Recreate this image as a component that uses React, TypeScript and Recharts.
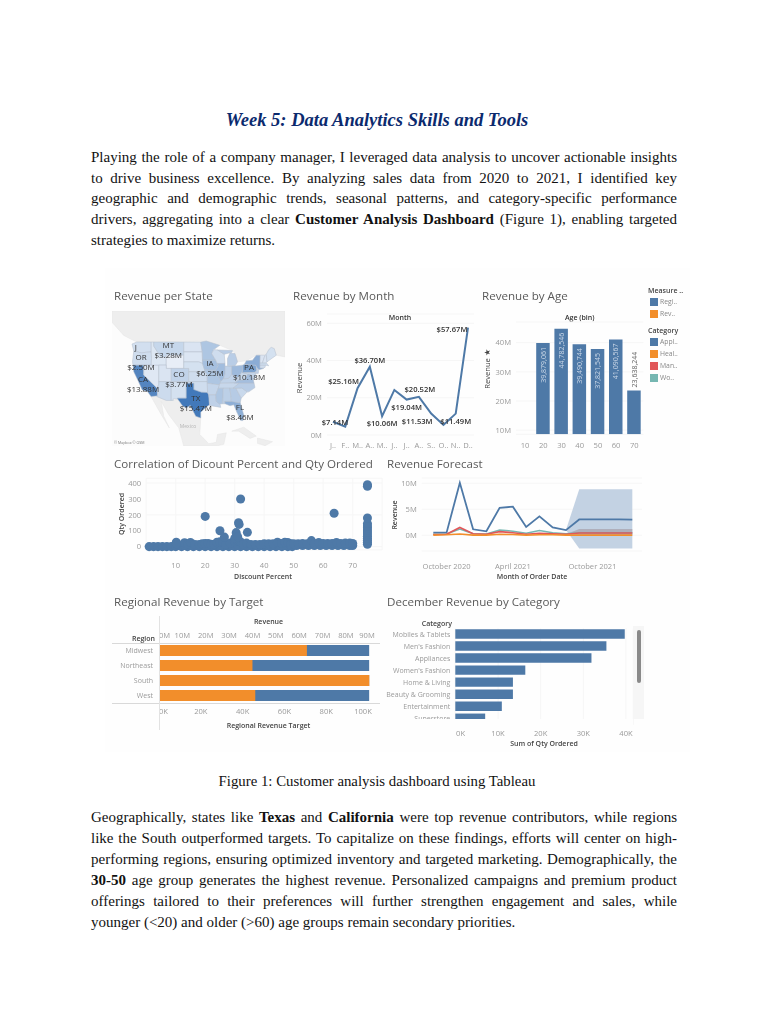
import React from 'react';
import {
  Area,
  Bar,
  BarChart,
  CartesianGrid,
  ComposedChart,
  LabelList,
  Line,
  LineChart,
  Scatter,
  ScatterChart,
  XAxis,
  YAxis,
  ZAxis,
} from 'recharts';

const SERIF = '"Liberation Serif", serif';
const SANS = '"Open Sans", sans-serif';
const BLUE = '#4e79a7';
const ORANGE = '#f28e2b';
const RED = '#e15759';
const TEAL = '#76b7b2';
const GRID = '#f6f6f6';
const TICK = { fill: '#9a9a9a', fontSize: 7.6, fontFamily: SANS };

// Revenue by month ($M)
const months = ['J..', 'F..', 'M..', 'A..', 'M..', 'J..', 'J..', 'A..', 'S..', 'O..', 'N..', 'D..'];
const monthRevenue = [7.14, 4.5, 25.16, 36.7, 10.06, 24.2, 19.04, 20.52, 11.53, 5.4, 11.49, 57.67];

// Revenue by age bin
const ageBins = ['10', '20', '30', '40', '50', '60', '70'];
const ageRevenue = [null, 39879061, 44782546, 39490744, 37821545, 41090567, 23638244];

// Discount vs quantity
const scatterBottom: [number, number][] = [
  [1, 0], [2.5, 0], [4, 0], [5.5, 0], [7, 0], [8.5, 0], [10, 0], [12, 0], [14, 0], [16, 0], [18, 0], [20, 0], [22, 0], [24, 0],
  [26, 0], [28, 0], [30, 0], [32, 0], [34, 0], [36, 0], [38, 0], [40, 0], [42, 0], [44, 0], [46, 0], [48, 0], [49.5, 0],
];
const scatterMiddle: [number, number][] = [
  [11, 8], [13, 8], [15, 8], [17, 8], [19, 8], [21, 8], [23, 8], [25, 8], [27, 8], [29, 8], [31, 8], [33, 8], [35, 8], [37, 8], [39, 8],
  [41, 8], [43, 8], [45, 8], [47, 8], [49, 8], [51, 7], [53, 7], [55, 7], [57, 7], [59, 7], [61, 7], [63, 7], [65, 7], [67, 7], [69, 7], [70, 7],
];
const scatterTop: [number, number][] = [
  [10.2, 28], [10.3, 18], [13, 24], [14, 16], [15, 26], [16.5, 14], [18, 14], [19, 18], [20, 20], [21, 20], [22, 15], [23, 14],
  [24, 28], [25, 30], [26, 28], [27, 15], [28.5, 22], [30, 32], [31, 36], [32, 30], [33, 14], [34, 22], [35.5, 14], [37, 14], [38.5, 14],
  [40, 18], [41.5, 18], [43, 18], [44.5, 28], [46, 20], [47, 28], [48, 26], [49, 18], [50, 18], [51.5, 18], [53, 20], [54.5, 18], [56, 38],
  [57, 18], [58.5, 26], [60, 20], [61.5, 20], [63, 20], [64.5, 26], [66, 20], [67.5, 22], [69, 22], [70, 20],
];
const scatterOutliers: [number, number][] = [
  [20, 190], [25, 100], [26.5, 60], [30.5, 88], [31.3, 150], [31.5, 140], [32, 300], [34.3, 90], [30, 52], [31, 62], [63.7, 210],
  [75, 15], [75, 28], [75, 40], [75, 52], [75, 65], [75, 80], [75, 92], [75, 105], [75, 118], [75, 130], [75, 145], [75, 180], [75, 380], [75, 390],
];

// Forecast by month ($M)
const forecastTicks = ['', 'October 2020', '', '', '', '', 'April 2021', '', '', '', '', '', 'October 2021', '', '', ''];
const forecastBlue = [0.5, 0.5, 10.1, 1.15, 0.77, 5.3, 5.5, 1.6, 3.65, 1.5, 1, 3.05, 3.05, 3.05, 3.05, 3.0];
const forecastTeal = [0.2, 0.25, 1.2, 0.3, 0.25, 1, 0.8, 0.4, 0.9, 0.5, 0.3, 0.5, 0.5, 0.5, 0.5, 0.5];
const forecastRed = [0.15, 0.2, 1.5, 0.3, 0.2, 0.7, 0.5, 0.2, 0.4, 0.3, 0.2, 0.45, 0.45, 0.45, 0.45, 0.45];
const forecastOrange = [0.05, 0.1, 0.25, 0.05, 0.05, 0.2, 0.15, 0.05, 0.1, 0.1, 0.05, 0.05, 0.05, 0.05, 0.05, 0.05];
const forecastBlueLow = [null, null, null, null, null, null, null, null, null, null, 1, -2.56, -2.56, -2.56, -2.56, -2.56];
const forecastBlueHigh = [null, null, null, null, null, null, null, null, null, null, 1, 8.85, 8.85, 8.85, 8.85, 8.85];
const forecastGrayLow = [null, null, null, null, null, null, null, null, null, null, 0.2, 0, 0, 0, 0, 0];
const forecastGrayHigh = [null, null, null, null, null, null, null, null, null, null, 0.2, 1.2, 1.2, 1.2, 1.2, 1.2];

// Regional revenue against target
const regions = ['Midwest', 'Northeast', 'South', 'West'];
const regionTarget = [100.5, 100.5, 100.5, 100.5]; // K
const regionRevenue = [63.3, 40, 90, 41.2]; // M

// December quantity by category (K)
const categories = ['Mobiles & Tablets', "Men's Fashion", 'Appliances', "Women's Fashion", 'Home & Living', 'Beauty & Grooming', 'Entertainment', 'Superstore'];
const categoryQty = [39.7, 35.4, 31.9, 16.4, 13.5, 13.5, 10.9, 7];

// Low-poly outlines in lon/lat, with revenue in $M for the fill
const stateOutlines: [string, number, number[][]][] = [
  ['WA', 2.2, [[-124.7, 48.4], [-122.8, 49], [-117, 49], [-117, 46], [-119, 45.9], [-121, 45.7], [-124, 46.3]]],
  ['OR', 2.5, [[-124, 46.3], [-121, 45.7], [-119, 45.9], [-117, 46], [-116.9, 44], [-117, 42], [-124.3, 42], [-124.5, 43]]],
  ['CA', 13.88, [[-124.3, 42], [-120, 42], [-120, 39], [-114.6, 35], [-114.5, 32.7], [-117.1, 32.5], [-118.5, 34], [-120.6, 34.5], [-122.4, 37.5], [-124, 40]]],
  ['NV', 1, [[-120, 42], [-114, 42], [-114, 36.2], [-114.6, 35], [-120, 39]]],
  ['ID', 1.2, [[-117, 49], [-116, 49], [-116, 47.8], [-114.5, 46], [-113, 44.5], [-111, 44.5], [-111, 42], [-117, 42], [-116.9, 44], [-117, 46]]],
  ['MT', 3.28, [[-116, 49], [-104, 49], [-104, 45], [-111, 45], [-111, 44.5], [-113, 44.5], [-114.5, 46], [-116, 47.8]]],
  ['WY', 0.2, [[-111, 45], [-104, 45], [-104, 41], [-111, 41]]],
  ['UT', 1.5, [[-114, 42], [-111, 42], [-111, 41], [-109, 41], [-109, 37], [-114, 37]]],
  ['AZ', 2.8, [[-114, 37], [-109, 37], [-109, 31.3], [-111, 31.3], [-114.8, 32.5], [-114.5, 32.7], [-114.6, 35], [-114, 36.2]]],
  ['CO', 3.77, [[-109, 41], [-102, 41], [-102, 37], [-109, 37]]],
  ['NM', 2, [[-109, 37], [-103, 37], [-103, 32], [-106.5, 32], [-106.5, 31.8], [-108.2, 31.8], [-108.2, 31.3], [-109, 31.3]]],
  ['ND', 1.5, [[-104, 49], [-97.2, 49], [-96.6, 46], [-104, 46]]],
  ['SD', 1.3, [[-104, 46], [-96.6, 46], [-96.5, 42.5], [-98, 43], [-104, 43]]],
  ['NE', 2, [[-104, 43], [-98, 43], [-96.5, 42.5], [-95.4, 40], [-102, 40], [-102, 41], [-104, 41]]],
  ['KS', 2.5, [[-102, 40], [-95.4, 40], [-94.6, 39], [-94.6, 37], [-102, 37]]],
  ['OK', 2.5, [[-103, 37], [-94.6, 37], [-94.5, 33.7], [-97, 33.8], [-100, 34.6], [-100, 36.5], [-103, 36.5]]],
  ['TX', 15.47, [[-103, 36.5], [-100, 36.5], [-100, 34.6], [-97, 33.8], [-94.5, 33.7], [-94, 33], [-93.7, 30], [-95, 29.3], [-97.2, 27.7], [-97.2, 26], [-99.2, 26.5], [-101.4, 29.8], [-103, 29], [-104.5, 29.7], [-106.5, 31.8], [-106.5, 32], [-103, 32]]],
  ['MN', 5.5, [[-97.2, 49], [-95, 49.3], [-89.6, 48], [-92, 46.7], [-92.8, 45.5], [-91.2, 43.5], [-96.5, 43.5], [-96.6, 46]]],
  ['IA', 6.25, [[-96.5, 43.5], [-91.2, 43.5], [-90.2, 41.8], [-91.4, 40.4], [-95.7, 40.6], [-96.5, 42.5]]],
  ['MO', 5.5, [[-95.7, 40.6], [-91.4, 40.4], [-90.2, 38.8], [-89.2, 37], [-89.7, 36], [-94.6, 36.5], [-94.6, 39], [-95.4, 40]]],
  ['AR', 3.5, [[-94.6, 36.5], [-89.7, 36], [-90.2, 35], [-91.2, 33], [-94, 33], [-94.5, 33.7]]],
  ['LA', 4, [[-94, 33], [-91.2, 33], [-91, 31], [-89.7, 31], [-89.2, 29.2], [-93.7, 29.8], [-93.7, 30]]],
  ['WI', 2.5, [[-92, 46.7], [-90.5, 46.6], [-87.8, 45.3], [-87.5, 42.5], [-90.6, 42.5], [-91.2, 43.5], [-92.8, 45.5]]],
  ['IL', 6.6, [[-90.6, 42.5], [-87.5, 42.5], [-87.5, 39.3], [-88.1, 37.8], [-89.2, 37], [-90.2, 38.8], [-91.4, 40.4], [-90.2, 41.8]]],
  ['IN', 4, [[-87.5, 41.7], [-84.8, 41.7], [-84.8, 39.1], [-86, 38], [-88.1, 37.8], [-87.5, 39.3]]],
  ['MI', 4.5, [[-86.5, 41.8], [-83.5, 41.7], [-82.5, 43], [-83.5, 45.5], [-85.5, 45.7], [-86.5, 44]]],
  ['MI', 4.5, [[-90.5, 46.6], [-87, 46.5], [-84.5, 46.4], [-84.7, 45.9], [-87.8, 45.3]]],
  ['OH', 7, [[-84.8, 41.7], [-83.5, 41.7], [-80.5, 42], [-80.6, 40], [-82, 38.5], [-82.6, 38.2], [-84.8, 39.1]]],
  ['KY', 3.8, [[-89.2, 37], [-88.1, 37.8], [-86, 38], [-84.8, 39.1], [-82.6, 38.2], [-82, 37.5], [-83.7, 36.6], [-89.5, 36.5]]],
  ['TN', 3.2, [[-89.7, 36], [-89.5, 36.5], [-83.7, 36.6], [-81.7, 36.6], [-84.3, 35], [-90.2, 35]]],
  ['MS', 5.5, [[-90.2, 35], [-88.2, 35], [-88.4, 30.3], [-89.7, 30.2], [-91, 31], [-91.2, 33]]],
  ['AL', 4.2, [[-88.2, 35], [-85.6, 35], [-85, 32], [-85, 31], [-87.6, 31], [-87.5, 30.3], [-88.4, 30.3]]],
  ['GA', 4.8, [[-85.6, 35], [-83.1, 35], [-81, 32], [-81.4, 30.7], [-85, 30.7], [-85, 32]]],
  ['FL', 8.46, [[-87.6, 31], [-85, 31], [-82, 30.6], [-81.4, 30.7], [-80, 26.9], [-80.3, 25.2], [-81.2, 25.2], [-82.8, 27.8], [-84, 30], [-85.5, 29.7], [-87.5, 30.3]]],
  ['SC', 3, [[-83.1, 35], [-80.8, 35.1], [-78.6, 33.9], [-81, 32]]],
  ['NC', 4.5, [[-84.3, 35], [-81.7, 36.6], [-75.9, 36.6], [-75.5, 35.2], [-78, 33.9], [-78.6, 33.9], [-80.8, 35.1], [-83.1, 35]]],
  ['VA', 6.5, [[-83.7, 36.6], [-75.9, 36.6], [-76.3, 38], [-77.3, 39.2], [-78.4, 39.3], [-80, 37.5], [-82, 37.5]]],
  ['WV', 3, [[-82.6, 38.2], [-82, 37.5], [-80, 37.5], [-78.4, 39.3], [-80.5, 39.7], [-80.6, 40], [-82, 38.5]]],
  ['PA', 10.18, [[-80.5, 42], [-79.8, 42.2], [-75.2, 42], [-74.8, 40.5], [-75.5, 39.8], [-80.5, 39.7]]],
  ['NY', 8.8, [[-79.8, 42.2], [-79, 43.3], [-76.5, 43.5], [-75, 45], [-73.4, 45], [-73.5, 41.2], [-72, 41], [-74, 40.6], [-74.8, 41.3], [-75.2, 42]]],
  ['NJ', 4, [[-74.8, 41.3], [-74, 40.6], [-74.2, 39.5], [-75.5, 39.5], [-74.8, 40.5]]],
  ['MD', 3.5, [[-80, 39.7], [-75.5, 39.8], [-75, 38.4], [-76, 37.9], [-77.3, 39.2], [-78.4, 39.3]]],
  ['CT', 2.5, [[-73.5, 42], [-71.3, 42], [-71.5, 41.3], [-73.5, 41.1]]],
  ['MA', 2.5, [[-73.5, 42.7], [-71, 42.7], [-70, 41.8], [-71.3, 42], [-73.5, 42]]],
  ['VT', 1.5, [[-73.4, 45], [-71.5, 45], [-72.5, 42.7], [-73.5, 42.7]]],
  ['NH', 1.5, [[-71.5, 45], [-71, 45.3], [-70.7, 43], [-71, 42.7], [-72.5, 42.7]]],
  ['ME', 2, [[-71, 45.3], [-70, 46.7], [-69, 47.4], [-67.8, 47], [-67, 45], [-70.7, 43]]],
];
const landOutlines: number[][][] = [
  [[-132.7, 58.4], [-63.5, 58.4], [-63.5, 44.5], [-67, 45], [-67.8, 47], [-69, 47.4], [-70, 46.7], [-71, 45.3], [-75, 45], [-79, 43.3], [-82.5, 43], [-83.5, 45.5], [-84.5, 46.4], [-89.6, 48], [-95, 49.3], [-122.8, 49], [-128, 51], [-132.7, 55]],
  [[-117.1, 32.5], [-114.8, 32.5], [-111, 31.3], [-108.2, 31.3], [-106.5, 31.8], [-104.5, 29.7], [-103, 29], [-101.4, 29.8], [-99.2, 26.5], [-97.2, 26], [-97.6, 21], [-94, 18.2], [-91, 18.6], [-90.5, 21], [-87, 21.5], [-88, 18], [-91, 17.5], [-104, 17.5], [-106, 23], [-110, 27], [-113, 31], [-112, 26.5], [-109.8, 23], [-113, 27]],
  [[-84.8, 22], [-80, 23.2], [-75, 20.5], [-77.5, 19.8], [-82, 22]],
  [[-74.5, 19.9], [-68.5, 18.8], [-71.5, 17.6], [-74.5, 18.3]],
];
const mapLabels: [string, string, number, number][] = [
  ['J', '', -123.2, 47.6],
  ['OR', '$2.50M', -121.1, 43.1],
  ['MT', '$3.28M', -110.2, 46.6],
  ['IA', '$6.25M', -93.5, 41.1],
  ['PA', '$10.18M', -77.9, 39.9],
  ['CO', '$3.77M', -105.9, 37.9],
  ['CA', '$13.88M', -120.3, 36.3],
  ['TX', '$15.47M', -99.2, 30.5],
  ['FL', '$8.46M', -81.5, 27.8],
];

const measureLegend: [string, string][] = [['Regi..', BLUE], ['Rev..', ORANGE]];
const categoryLegend: [string, string][] = [['Appl..', BLUE], ['Heal..', ORANGE], ['Man..', RED], ['Wo..', TEAL]];

const MAP_W = 173;
const MAP_H = 135;
const LON_DOMAIN = [-132.7, -63.5];
const LAT_DOMAIN = [17.5, 58.4];
const PX_LON = MAP_W / (LON_DOMAIN[1] - LON_DOMAIN[0]);
const PX_LAT = MAP_H / (LAT_DOMAIN[1] - LAT_DOMAIN[0]);

const shade = (revenue: number) => {
  const t = Math.min(revenue / 15.5, 1);
  const mix = (a: number, b: number) => Math.round(a + (b - a) * t);
  return `rgb(${mix(234, 66)},${mix(240, 121)},${mix(248, 186)})`;
};

const stateRows = stateOutlines.map(([name, revenue, poly]) => ({
  name, lon: poly[0][0], lat: poly[0][1], poly, fill: shade(revenue), stroke: '#b4bfcc',
}));
const landRows = landOutlines.map((poly) => ({
  lon: poly[0][0], lat: poly[0][1], poly, fill: '#eeeeee', stroke: '#e4e4e4',
}));
const mapLabelRows = mapLabels.map(([code, value, lon, lat]) => ({ code, value, lon, lat }));

// outlines are anchored on their first vertex, the rest is offset from there
const PolyShape = (props: any) => {
  const { cx, cy, payload } = props;
  const pts = payload.poly
    .map(([lon, lat]: number[]) => `${cx + (lon - payload.lon) * PX_LON},${cy - (lat - payload.lat) * PX_LAT}`)
    .join(' ');
  return <polygon points={pts} fill={payload.fill} stroke={payload.stroke} strokeWidth={0.5} />;
};

const MapLabelShape = (props: any) => {
  const { cx, cy, payload } = props;
  const style = { fontFamily: SANS, fontSize: 8, fill: '#333' };
  return (
    <g>
      <text x={cx} y={payload.value ? cy - 2 : cy + 3} textAnchor="middle" style={style}>{payload.code}</text>
      {payload.value && <text x={cx} y={cy + 8} textAnchor="middle" style={style}>{payload.value}</text>}
    </g>
  );
};

const monthRows = months.map((month, i) => ({ key: `${month}${i}`, month, revenue: monthRevenue[i] }));
const monthLabelOffsets: Record<number, [number, number]> = {
  0: [2, 3], 2: [-14, -4], 3: [0, -4], 4: [0, 10], 6: [0, 10], 7: [1, -5], 8: [-14, 10], 10: [0, 10], 11: [-16, 4],
};
const MonthLabel = (props: any) => {
  const { x, y, value, index } = props;
  const offset = monthLabelOffsets[index];
  if (!offset) return null;
  return (
    <text x={x + offset[0]} y={y + offset[1]} textAnchor="middle" style={{ fontFamily: SANS, fontSize: 7.6, fontWeight: 600, fill: '#333' }}>
      ${value.toFixed(2)}M
    </text>
  );
};

const ageRows = ageBins.map((bin, i) => ({ bin, revenue: ageRevenue[i] }));
const AgeLabel = (props: any) => {
  const { x, y, width, value } = props;
  if (value == null) return null;
  const low = value < 30000000;
  const cx = x + width / 2;
  const anchorY = low ? y - 3 : y + 4;
  return (
    <text
      transform={`translate(${cx + 2.6},${anchorY}) rotate(-90)`}
      textAnchor={low ? 'start' : 'end'}
      style={{ fontFamily: SANS, fontSize: 7, fill: low ? '#666' : '#c9d6e6' }}
    >
      {value.toLocaleString('en-US')}
    </text>
  );
};

const scatterRows = [...scatterBottom, ...scatterMiddle, ...scatterTop, ...scatterOutliers].map(([discount, qty]) => ({ discount, qty }));
const forecastRows = forecastTicks.map((tick, i) => ({
  slot: i,
  blue: forecastBlue[i],
  teal: forecastTeal[i],
  red: forecastRed[i],
  orange: forecastOrange[i],
  blueBand: forecastBlueLow[i] == null ? null : [forecastBlueLow[i], forecastBlueHigh[i]],
  grayBand: forecastGrayLow[i] == null ? null : [forecastGrayLow[i], forecastGrayHigh[i]],
}));
const regionRows = regions.map((region, i) => ({ region, target: regionTarget[i], revenue: regionRevenue[i] }));
const categoryRows = categories.map((category, i) => ({ category, qty: categoryQty[i] }));

// first tick of a Tableau axis sits inside the pane, so nudge it right
const InsideTick = (props: any) => {
  const { x, y, payload, suffix, nudge } = props;
  return (
    <text x={x + (payload.value === 0 ? nudge : 0)} y={y} dy={3} textAnchor="middle" style={TICK}>
      {payload.value}{suffix}
    </text>
  );
};

// single line row label, Recharts would wrap these
const RowTick = (props: any) => {
  const { x, y, payload } = props;
  return (
    <text x={x} y={y} dy={2.6} textAnchor="end" style={{ ...TICK, fontSize: 7 }}>
      {payload.value}
    </text>
  );
};

const Txt = ({ x, y, children, size = 7.6, color = '#444', weight = 400, rotate = 0, align = 'left', font = SANS }: any) => {
  const shift = align === 'center' ? '-50%' : align === 'right' ? '-100%' : '0';
  return (
    <div
      style={{
        position: 'absolute', left: x, top: y, lineHeight: 1, whiteSpace: 'nowrap', fontFamily: font,
        fontSize: size, color, fontWeight: weight,
        transform: `translate(${shift},-50%) rotate(${rotate}deg)`,
      }}
    >
      {children}
    </div>
  );
};

const Box = ({ x, y, w, h, color, radius = 0 }: any) => (
  <div style={{ position: 'absolute', left: x, top: y, width: w, height: h, background: color, borderRadius: radius }} />
);

const At = ({ x, y, children }: any) => <div style={{ position: 'absolute', left: x, top: y }}>{children}</div>;

const Para = ({ y, last = false, children }: any) => (
  <div
    style={{
      position: 'absolute', left: 91, top: y, width: 586, lineHeight: 1, fontFamily: SERIF, fontSize: 15, color: '#111',
      textAlign: 'justify', textAlignLast: last ? 'left' : 'justify', transform: 'translateY(-50%)', whiteSpace: 'normal',
    }}
  >
    {children}
  </div>
);

function Dashboard() {
  const title = { size: 11.6, color: '#5a5a5a' };
  return (
    <div style={{ position: 'absolute', left: 0, top: 0, width: 768, height: 1024, filter: 'blur(0.45px)' }}>
      <Box x={105} y={268} w={585} h={484} color="#fefefe" />

      <Txt x={114} y={296} {...title}>Revenue per State</Txt>
      <Txt x={293} y={296} {...title}>Revenue by Month</Txt>
      <Txt x={482} y={296} {...title}>Revenue by Age</Txt>
      <Txt x={114} y={464} {...title}>Correlation of Dicount Percent and Qty Ordered</Txt>
      <Txt x={387} y={464} {...title}>Revenue Forecast</Txt>
      <Txt x={114} y={602} {...title}>Regional Revenue by Target</Txt>
      <Txt x={387} y={602} {...title}>December Revenue by Category</Txt>

      {/* map */}
      <At x={112} y={311}>
        <ScatterChart width={MAP_W} height={MAP_H} margin={{ top: 0, right: 0, bottom: 0, left: 0 }} style={{ background: '#fcfcfc' }}>
          <XAxis type="number" dataKey="lon" domain={LON_DOMAIN} hide />
          <YAxis type="number" dataKey="lat" domain={LAT_DOMAIN} hide />
          <Scatter data={landRows} shape={PolyShape} isAnimationActive={false} />
          <Scatter data={stateRows} shape={PolyShape} isAnimationActive={false} />
          <Scatter data={mapLabelRows} shape={MapLabelShape} isAnimationActive={false} />
        </ScatterChart>
      </At>
      <Txt x={188} y={426} size={5} color="#b5b5b5" align="center">Mexico</Txt>
      <Txt x={114} y={443} size={3.6} color="#777">© Mapbox © OSM</Txt>

      {/* revenue by month */}
      <Txt x={400} y={316.5} weight={600} color="#333" align="center" size={7}>Month</Txt>
      <Txt x={300} y={378} rotate={-90} align="center">Revenue</Txt>
      <At x={290} y={310}>
        <LineChart width={190} height={140} data={monthRows} margin={{ top: 4, right: 5.9, bottom: 0, left: 0 }}>
          <CartesianGrid vertical={false} stroke={GRID} />
          <XAxis dataKey="key" height={15} interval={0} axisLine={false} tickLine={false} tick={TICK} tickFormatter={(_, i) => months[i]} padding={{ left: 6.1, right: 6.1 }} />
          <YAxis width={36.9} domain={[0, 65]} ticks={[0, 20, 40, 60]} axisLine={false} tickLine={false} tickSize={3} tick={TICK} tickFormatter={(v) => `${v}M`} />
          <Line dataKey="revenue" stroke={BLUE} strokeWidth={2} dot={false} isAnimationActive={false} label={MonthLabel} />
        </LineChart>
      </At>

      {/* revenue by age */}
      <Txt x={579.7} y={317} weight={600} color="#333" align="center" size={7}>Age (bin)</Txt>
      <Txt x={488} y={369} rotate={-90} align="center">Revenue ★</Txt>
      <At x={480} y={310}>
        <BarChart width={165} height={140} data={ageRows} margin={{ top: 12, right: 1.6, bottom: 0, left: 0 }} barSize={13.5}>
          <CartesianGrid vertical={false} stroke={GRID} />
          <XAxis dataKey="bin" height={15.7} interval={0} axisLine={false} tickLine={false} tick={TICK} />
          <YAxis width={36} domain={[8.57e6, 47.1e6]} allowDataOverflow ticks={[10e6, 20e6, 30e6, 40e6]} axisLine={false} tickLine={false} tickSize={3} tick={TICK} tickFormatter={(v) => `${v / 1e6}M`} />
          <Bar dataKey="revenue" fill={BLUE} isAnimationActive={false}>
            <LabelList dataKey="revenue" content={AgeLabel} />
          </Bar>
        </BarChart>
      </At>

      {/* legends */}
      <Txt x={648} y={290} size={7} weight={600} color="#444">Measure ..</Txt>
      {measureLegend.map(([name, color], i) => (
        <React.Fragment key={name}>
          <Box x={649.5} y={297.5 + i * 12} w={8.5} h={8.5} color={color} />
          <Txt x={660} y={302 + i * 12} size={6.8} color="#888">{name}</Txt>
        </React.Fragment>
      ))}
      <Txt x={648} y={330} size={7} weight={600} color="#444">Category</Txt>
      {categoryLegend.map(([name, color], i) => (
        <React.Fragment key={name}>
          <Box x={649.5} y={337.5 + i * 12} w={8.5} h={8.5} color={color} />
          <Txt x={660} y={342 + i * 12} size={6.8} color="#888">{name}</Txt>
        </React.Fragment>
      ))}

      {/* discount scatter */}
      <Txt x={121} y={514} rotate={-90} align="center" size={7} weight={600}>Qty Ordered</Txt>
      <Txt x={263} y={576} align="center" size={7} weight={600}>Discount Percent</Txt>
      <At x={110} y={475}>
        <ScatterChart width={280} height={96.8} margin={{ top: 3.3, right: 7.8, bottom: 0, left: 0 }}>
          <CartesianGrid stroke={GRID} />
          <XAxis type="number" dataKey="discount" height={22} domain={[0, 80]} ticks={[10, 20, 30, 40, 50, 60, 70]} axisLine={false} tickLine={false} tick={TICK} tickMargin={7} />
          <YAxis type="number" dataKey="qty" width={36.2} domain={[-20, 430]} ticks={[0, 100, 200, 300, 400]} axisLine={false} tickLine={false} tickSize={3} tick={TICK} />
          <ZAxis range={[40, 40]} />
          <Scatter data={scatterRows} fill={BLUE} isAnimationActive={false} shape="circle" />
        </ScatterChart>
      </At>

      {/* forecast */}
      <Txt x={394} y={515} rotate={-90} align="center" size={7} weight={600}>Revenue</Txt>
      <Txt x={532} y={576} align="center" size={7} weight={600}>Month of Order Date</Txt>
      <At x={385} y={475}>
        <ComposedChart width={260} height={97.9} data={forecastRows} margin={{ top: 3.1, right: 3, bottom: 0, left: 0 }}>
          <CartesianGrid vertical={false} stroke={GRID} />
          <XAxis dataKey="slot" scale="point" height={22} interval={0} padding={{ left: 11.6, right: 9.7 }} axisLine={false} tickLine={false} tick={TICK} tickMargin={7} tickFormatter={(_, i) => forecastTicks[i]} />
          <YAxis width={36.7} domain={[-3, 11]} ticks={[0, 5, 10]} axisLine={false} tickLine={false} tickSize={3} tick={TICK} tickFormatter={(v) => `${v}M`} />
          <Area dataKey="blueBand" stroke="none" fill="#c3d2e3" fillOpacity={1} isAnimationActive={false} />
          <Area dataKey="grayBand" stroke="none" fill="#a8a3ad" fillOpacity={0.75} isAnimationActive={false} />
          <Line dataKey="blue" stroke={BLUE} strokeWidth={1.8} dot={false} isAnimationActive={false} />
          <Line dataKey="teal" stroke={TEAL} strokeWidth={1.5} dot={false} isAnimationActive={false} />
          <Line dataKey="red" stroke={RED} strokeWidth={1.6} dot={false} isAnimationActive={false} />
          <Line dataKey="orange" stroke={ORANGE} strokeWidth={1.7} dot={false} isAnimationActive={false} />
        </ComposedChart>
      </At>

      {/* regional */}
      <Txt x={268.5} y={621} align="center" size={7} weight={600}>Revenue</Txt>
      <Txt x={155} y={638} align="right" size={7} weight={600}>Region</Txt>
      <Txt x={268.5} y={725} align="center" size={7} weight={600}>Regional Revenue Target</Txt>
      <At x={105} y={620}>
        <BarChart width={270} height={110} data={regionRows} layout="vertical" barSize={11} barGap={-11} margin={{ top: 0, right: 5, bottom: 0, left: 0 }}>
          <XAxis xAxisId="revenue" type="number" orientation="top" height={23} domain={[0, 90.3]} ticks={[0, 10, 20, 30, 40, 50, 60, 70, 80, 90]} axisLine={false} tickLine={false} tick={<InsideTick suffix="M" nudge={5.5} />} />
          <XAxis xAxisId="target" type="number" orientation="bottom" height={27} domain={[0, 100.9]} ticks={[0, 20, 40, 60, 80, 100]} axisLine={false} tickLine={false} tick={<InsideTick suffix="K" nudge={4.5} />} />
          <YAxis type="category" dataKey="region" width={54} interval={0} axisLine={false} tickLine={false} tickSize={4} tick={<RowTick />} />
          <Bar xAxisId="target" dataKey="target" fill={BLUE} isAnimationActive={false} />
          <Bar xAxisId="revenue" dataKey="revenue" fill={ORANGE} isAnimationActive={false} />
        </BarChart>
      </At>
      <Box x={112} y={642.5} w={268} h={0.7} color="#d9d9d9" />
      <Box x={112} y={703} w={268} h={0.7} color="#d9d9d9" />
      <Box x={158.6} y={616} w={0.7} h={114} color="#e2e2e2" />

      {/* december categories */}
      <Txt x={452} y={623} align="right" size={7} weight={600}>Category</Txt>
      <Txt x={544} y={743} align="center" size={7} weight={600}>Sum of Qty Ordered</Txt>
      <At x={375} y={620}>
        <BarChart width={260} height={124.6} data={categoryRows} layout="vertical" barSize={9.4} margin={{ top: 8.3, right: 1.7, bottom: 0, left: 0 }}>
          <CartesianGrid horizontal={false} stroke={GRID} />
          <XAxis type="number" height={20} domain={[0, 41.7]} ticks={[0, 10, 20, 30, 40]} axisLine={false} tickLine={false} tick={<InsideTick suffix="K" nudge={5.3} />} />
          <YAxis type="category" dataKey="category" width={80.3} interval={0} axisLine={false} tickLine={false} tickSize={3} tick={<RowTick />} />
          <Bar dataKey="qty" fill={BLUE} isAnimationActive={false} />
        </BarChart>
      </At>
      {/* list is scrolled, the last row is cut by the pane */}
      <Box x={375} y={719.3} w={258} h={5.6} color="#fefefe" />
      <Box x={633} y={626} w={11} h={93} color="#f6f6f6" />
      <Box x={636.7} y={630} w={4.6} h={53} color="#8a8a8a" radius={2.3} />
    </div>
  );
}

export default function App() {
  return (
    <div style={{ position: 'absolute', left: 0, top: 0, width: 768, height: 1024, background: '#fff', overflow: 'hidden' }}>
      <Txt x={377} y={120} size={18.5} weight={700} color="#0b2a6e" align="center" font={SERIF}>
        <i>Week 5: Data Analytics Skills and Tools</i>
      </Txt>
      <Para y={157}>Playing the role of a company manager, I leveraged data analysis to uncover actionable insights</Para>
      <Para y={177.5}>to drive business excellence. By analyzing sales data from 2020 to 2021, I identified key</Para>
      <Para y={198}>geographic and demographic trends, seasonal patterns, and category-specific performance</Para>
      <Para y={219}>drivers, aggregating into a clear <b>Customer Analysis Dashboard</b> (Figure 1), enabling targeted</Para>
      <Para y={240} last>strategies to maximize returns.</Para>

      <Dashboard />

      <Txt x={377} y={781} size={14.8} color="#111" align="center" font={SERIF}>Figure 1: Customer analysis dashboard using Tableau</Txt>

      <Para y={817}>Geographically, states like <b>Texas</b> and <b>California</b> were top revenue contributors, while regions</Para>
      <Para y={838}>like the South outperformed targets. To capitalize on these findings, efforts will center on high-</Para>
      <Para y={859}>performing regions, ensuring optimized inventory and targeted marketing. Demographically, the</Para>
      <Para y={880}><b>30-50</b> age group generates the highest revenue. Personalized campaigns and premium product</Para>
      <Para y={901}>offerings tailored to their preferences will further strengthen engagement and sales, while</Para>
      <Para y={922} last>younger (&lt;20) and older (&gt;60) age groups remain secondary priorities.</Para>
    </div>
  );
}
